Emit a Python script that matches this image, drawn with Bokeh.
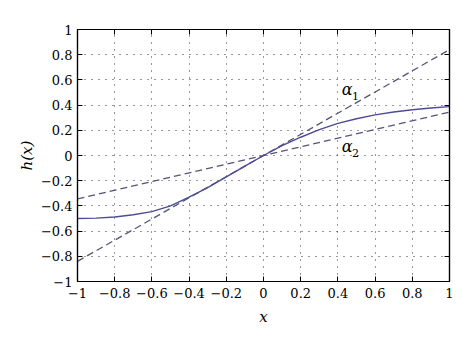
from bokeh.plotting import figure
from bokeh.models import FixedTicker, LinearAxis, Range1d
from bokeh.core.properties import value
from bokeh.embed import file_html
from bokeh.resources import INLINE

# ---- data ----
x_vals = [-1.0, -0.9, -0.8, -0.7, -0.6, -0.5, -0.4, -0.3, -0.2, -0.1, 0.0,
          0.1, 0.2, 0.3, 0.4, 0.5, 0.6, 0.7, 0.8, 0.9, 1.0]
h_vals = [-0.500, -0.497, -0.488, -0.470, -0.445, -0.400, -0.330, -0.255, -0.170, -0.085, 0.000,
          0.078, 0.145, 0.205, 0.255, 0.292, 0.322, 0.345, 0.363, 0.377, 0.388]
alpha1_x = [-1.0, 1.0]
alpha1_y = [-0.84, 0.84]
alpha2_x = [-1.0, 1.0]
alpha2_y = [-0.345, 0.345]

tick_vals = [-1.0, -0.8, -0.6, -0.4, -0.2, 0.0, 0.2, 0.4, 0.6, 0.8, 1.0]
tick_labels = ["\u22121", "\u22120.8", "\u22120.6", "\u22120.4", "\u22120.2", "0",
               "0.2", "0.4", "0.6", "0.8", "1"]

label_text = ["\u03b1", "\u03b1"]
label_sub = ["1", "2"]
label_x = [0.45, 0.45]
label_y = [0.52, 0.07]

FONT = "DejaVu Serif"

p = figure(width=474, height=345, output_backend="svg", toolbar_location=None,
           x_range=Range1d(-1, 1), y_range=Range1d(-1, 1),
           min_border_left=77, min_border_right=25, min_border_top=29, min_border_bottom=64,
           x_axis_label="x", y_axis_label="h(x)")
p.background_fill_color = "white"
p.border_fill_color = "white"
p.outline_line_color = "black"
p.outline_line_width = 1.2

overrides = {v: t for v, t in zip(tick_vals, tick_labels)}
for ax in (p.xaxis[0], p.yaxis[0]):
    ax.ticker = FixedTicker(ticks=tick_vals)
    ax.major_label_overrides = overrides
    ax.major_tick_in = 5
    ax.major_tick_out = 0
    ax.minor_tick_in = 0
    ax.minor_tick_out = 0
    ax.axis_line_color = "black"
    ax.axis_line_width = 1.2
    ax.major_label_text_font = FONT
    ax.major_label_text_font_size = "13px"
    ax.major_label_text_color = "black"
    ax.axis_label_text_font = FONT
    ax.axis_label_text_font_style = "italic"
    ax.axis_label_text_font_size = "15px"
    ax.axis_label_text_color = "black"
p.xaxis.major_label_standoff = 6
p.yaxis.major_label_standoff = 5
p.xaxis.axis_label_standoff = 7
p.yaxis.axis_label_standoff = 2

for loc in ("above", "right"):
    ax = LinearAxis(ticker=FixedTicker(ticks=tick_vals))
    ax.major_tick_in = 5
    ax.major_tick_out = 0
    ax.minor_tick_in = 0
    ax.minor_tick_out = 0
    ax.major_label_text_color = None
    ax.axis_line_width = 1.2
    p.add_layout(ax, loc)

for g in (p.xgrid[0], p.ygrid[0]):
    g.ticker = FixedTicker(ticks=tick_vals)
    g.grid_line_color = "black"
    g.grid_line_alpha = 0.8
    g.grid_line_dash = "1 6"
    g.grid_line_width = 1

p.line(alpha1_x, alpha1_y, line_color="#555575", line_width=1.3, line_dash="7 4")
p.line(alpha2_x, alpha2_y, line_color="#555575", line_width=1.3, line_dash="7 4")
p.line(x_vals, h_vals, line_color="#4c4c98", line_width=1.4)

p.text(label_x, label_y, text=label_text, text_font=value(FONT), text_font_style="italic",
       text_font_size="16px", text_align="center", text_baseline="middle", text_color="black")
p.text([v + 0.045 for v in label_x], [v - 0.05 for v in label_y], text=label_sub,
       text_font=value(FONT), text_font_size="11px", text_align="center",
       text_baseline="middle", text_color="black")

open("out.html", "w").write(file_html(p, INLINE))
